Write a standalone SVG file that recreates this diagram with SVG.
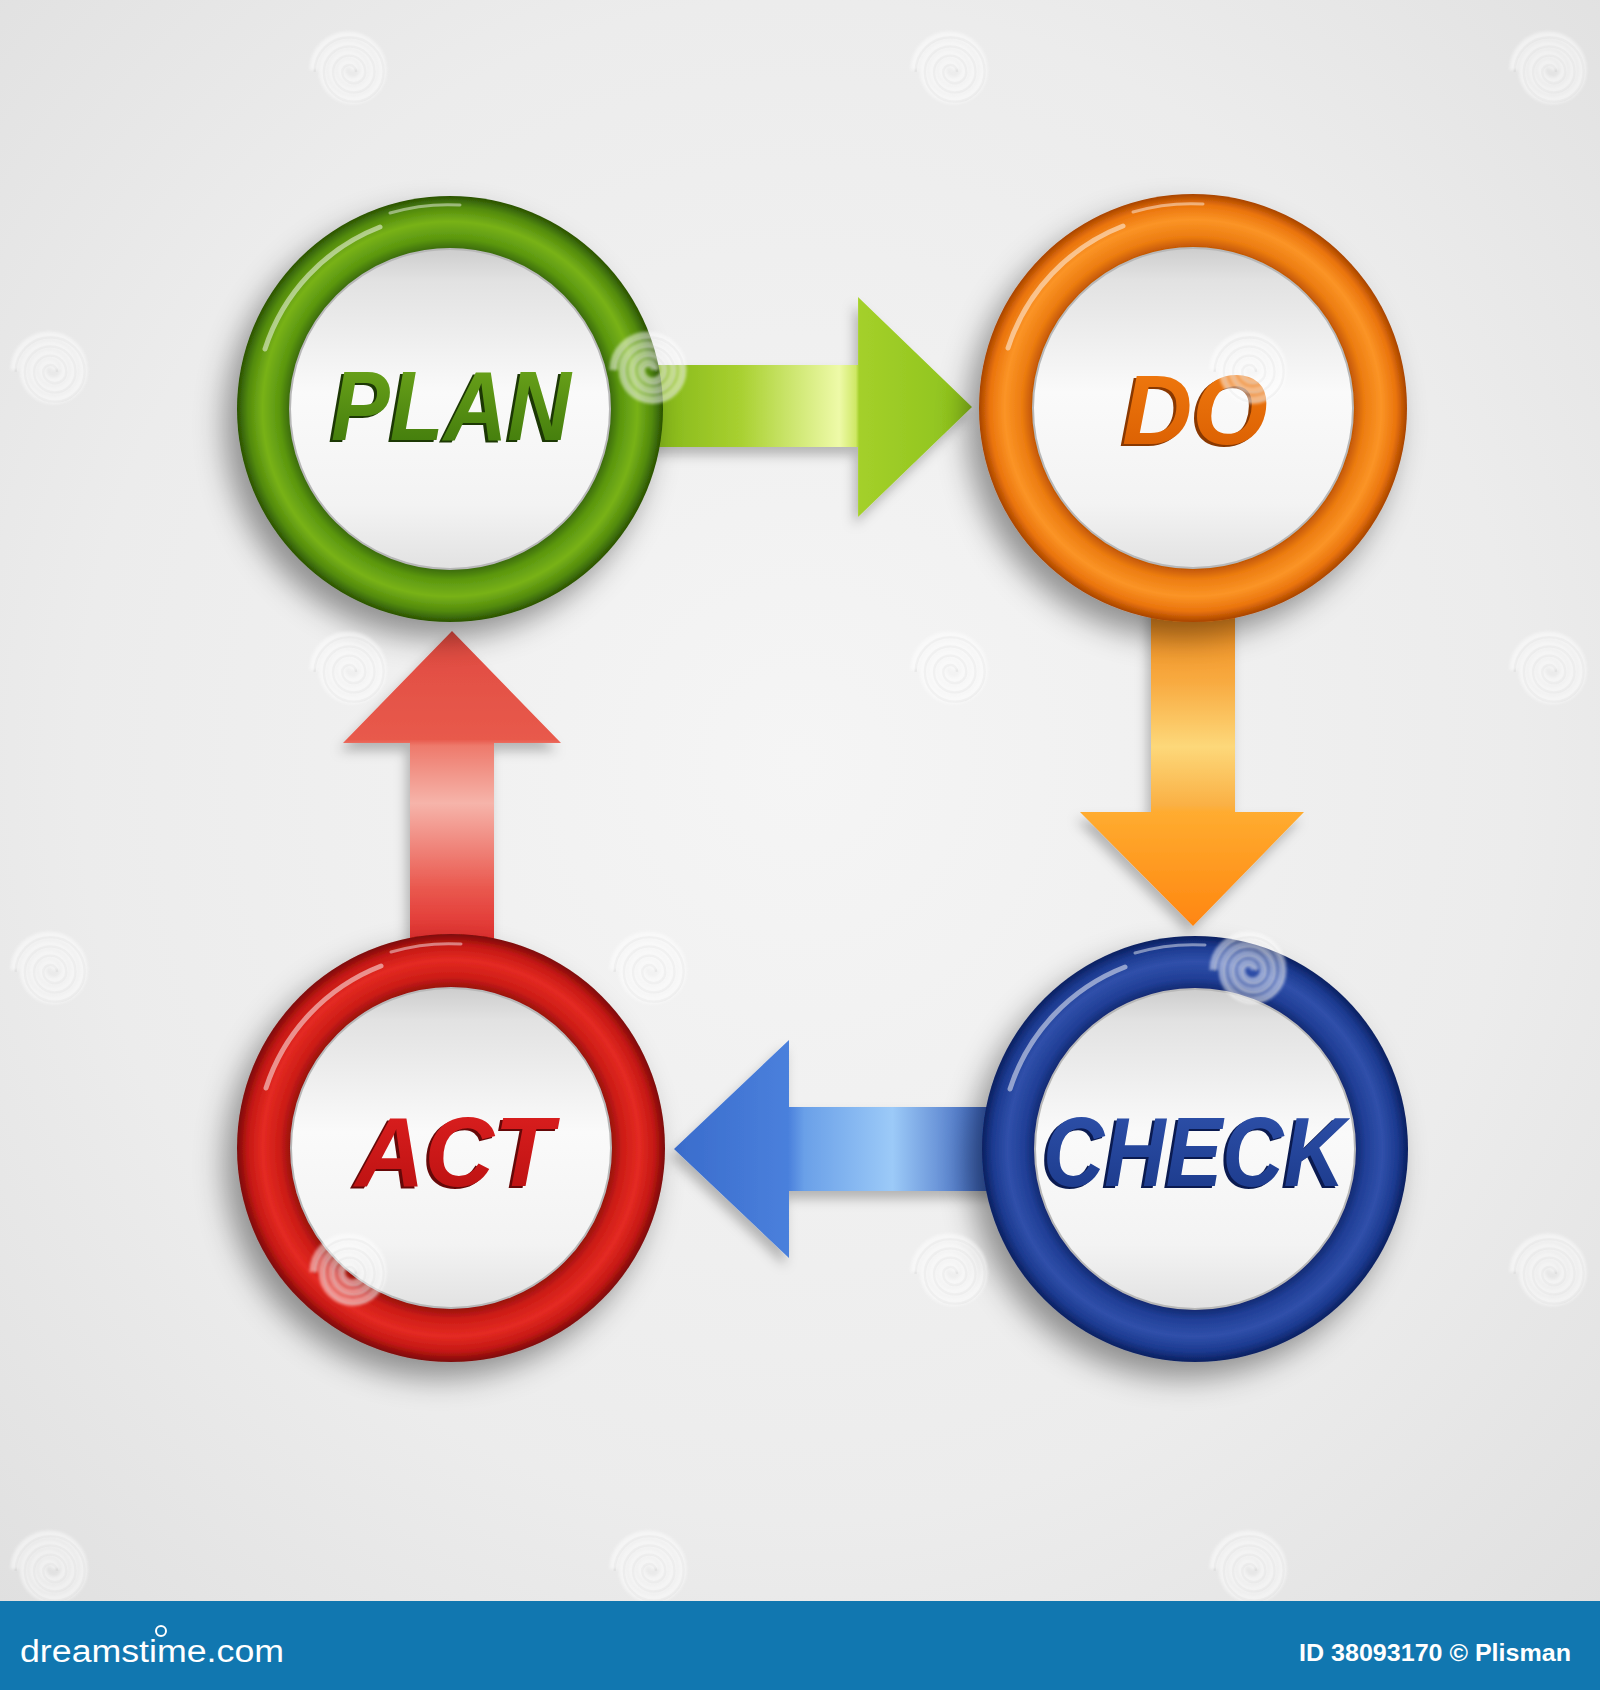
<svg xmlns="http://www.w3.org/2000/svg" xmlns:xlink="http://www.w3.org/1999/xlink" width="1600" height="1690" viewBox="0 0 1600 1690">
<defs>
  <radialGradient id="bg" cx="0.5" cy="0.45" r="0.75">
    <stop offset="0" stop-color="#f5f5f5"/>
    <stop offset="0.6" stop-color="#ececec"/>
    <stop offset="1" stop-color="#dedede"/>
  </radialGradient>
  <filter id="shadow" x="-30%" y="-30%" width="160%" height="160%">
    <feDropShadow dx="-12" dy="16" stdDeviation="15" flood-color="#000" flood-opacity="0.4"/>
  </filter>
  <filter id="ashadow" x="-30%" y="-30%" width="160%" height="160%">
    <feDropShadow dx="-4" dy="8" stdDeviation="6" flood-color="#000" flood-opacity="0.25"/>
  </filter>
  <filter id="soft" x="-20%" y="-20%" width="140%" height="140%">
    <feGaussianBlur stdDeviation="1.2"/>
  </filter>
  <radialGradient id="ringG">
    <stop offset="0.73" stop-color="#2c5604"/>
    <stop offset="0.8" stop-color="#5a960f"/>
    <stop offset="0.88" stop-color="#78b218"/>
    <stop offset="0.95" stop-color="#528a0c"/>
    <stop offset="1" stop-color="#2a5204"/>
  </radialGradient>
  <radialGradient id="ringO">
    <stop offset="0.73" stop-color="#b04600"/>
    <stop offset="0.8" stop-color="#ec7c10"/>
    <stop offset="0.88" stop-color="#fb9426"/>
    <stop offset="0.95" stop-color="#ea740c"/>
    <stop offset="1" stop-color="#a84400"/>
  </radialGradient>
  <radialGradient id="ringB">
    <stop offset="0.73" stop-color="#0a2060"/>
    <stop offset="0.8" stop-color="#203e96"/>
    <stop offset="0.88" stop-color="#3050aa"/>
    <stop offset="0.95" stop-color="#1c3a90"/>
    <stop offset="1" stop-color="#0a2060"/>
  </radialGradient>
  <radialGradient id="ringR">
    <stop offset="0.73" stop-color="#820c0a"/>
    <stop offset="0.8" stop-color="#cc1c16"/>
    <stop offset="0.88" stop-color="#e42a22"/>
    <stop offset="0.95" stop-color="#c41814"/>
    <stop offset="1" stop-color="#7c0a08"/>
  </radialGradient>
  <linearGradient id="face" x1="0" y1="0" x2="0" y2="1">
    <stop offset="0" stop-color="#cdcdcd"/>
    <stop offset="0.1" stop-color="#e2e2e2"/>
    <stop offset="0.45" stop-color="#fafafa"/>
    <stop offset="0.8" stop-color="#f3f3f3"/>
    <stop offset="1" stop-color="#e2e2e2"/>
  </linearGradient>
  <linearGradient id="gArrow" gradientUnits="userSpaceOnUse" x1="640" y1="0" x2="972" y2="0">
    <stop offset="0" stop-color="#7db214"/>
    <stop offset="0.3" stop-color="#a8d030"/>
    <stop offset="0.6" stop-color="#eefaa8"/>
    <stop offset="0.65" stop-color="#cfe866"/>
    <stop offset="0.66" stop-color="#a4d02a"/>
    <stop offset="1" stop-color="#8cc21c"/>
  </linearGradient>
  <linearGradient id="oArrow" gradientUnits="userSpaceOnUse" x1="0" y1="600" x2="0" y2="926">
    <stop offset="0" stop-color="#ee8616"/>
    <stop offset="0.25" stop-color="#f8aa40"/>
    <stop offset="0.45" stop-color="#fdd87a"/>
    <stop offset="0.63" stop-color="#fab044"/>
    <stop offset="0.65" stop-color="#ffac30"/>
    <stop offset="1" stop-color="#ff8610"/>
  </linearGradient>
  <linearGradient id="rArrow" gradientUnits="userSpaceOnUse" x1="0" y1="950" x2="0" y2="631">
    <stop offset="0" stop-color="#de2626"/>
    <stop offset="0.2" stop-color="#ea5a50"/>
    <stop offset="0.46" stop-color="#f6b4aa"/>
    <stop offset="0.64" stop-color="#ee7a6c"/>
    <stop offset="0.66" stop-color="#e85a4c"/>
    <stop offset="1" stop-color="#e04a40"/>
  </linearGradient>
  <linearGradient id="bArrow" gradientUnits="userSpaceOnUse" x1="1000" y1="0" x2="674" y2="0">
    <stop offset="0" stop-color="#2a50b0"/>
    <stop offset="0.33" stop-color="#9ccaf8"/>
    <stop offset="0.6" stop-color="#6aa0e8"/>
    <stop offset="0.65" stop-color="#4a80dc"/>
    <stop offset="1" stop-color="#3a6ccc"/>
  </linearGradient>
  <linearGradient id="tG" x1="0" y1="0" x2="0" y2="1">
    <stop offset="0" stop-color="#70a81c"/>
    <stop offset="1" stop-color="#3c760a"/>
  </linearGradient>
  <linearGradient id="tO" x1="0" y1="0" x2="0" y2="1">
    <stop offset="0" stop-color="#f27c10"/>
    <stop offset="1" stop-color="#d85c00"/>
  </linearGradient>
  <linearGradient id="tB" x1="0" y1="0" x2="0" y2="1">
    <stop offset="0" stop-color="#2f52ac"/>
    <stop offset="1" stop-color="#1a3888"/>
  </linearGradient>
  <linearGradient id="tR" x1="0" y1="0" x2="0" y2="1">
    <stop offset="0" stop-color="#de2020"/>
    <stop offset="1" stop-color="#b81010"/>
  </linearGradient>
  <path id="spiral" d="M -30,0 A 30 30 0 0 1 30,0 A 26 26 0 0 1 -22,0 A 22 22 0 0 1 22,0 A 18 18 0 0 1 -14,0 A 14 14 0 0 1 14,0 A 10 10 0 0 1 -6,0 A 6 6 0 0 1 6,0"/>
</defs>
<style>
  .label { font-family: "Liberation Sans", Arial, sans-serif; font-weight: bold; font-style: italic; font-size: 98px; text-anchor: middle; }
  .face { fill: url(#face); stroke: #b8b8b8; stroke-width: 2; }
  .hl { fill: none; stroke: #ffffff; stroke-linecap: round; }
  .arrow { filter: url(#ashadow); }
  .sp { fill: none; stroke: #ffffff; stroke-width: 7; opacity: 0.5; filter: url(#soft); }
  .sp2 { fill: none; stroke: #8a8a8a; stroke-width: 2; opacity: 0.15; }
  .foot { font-family: "Liberation Sans", Arial, sans-serif; fill: #ffffff; }
</style>

<rect x="0" y="0" width="1600" height="1690" fill="url(#bg)"/>

<g id="connectors">
  <polygon class="arrow" fill="url(#gArrow)" points="640,365 858,365 858,297 972,407 858,517 858,447 640,447"/>
  <polygon class="arrow" fill="url(#oArrow)" points="1151,600 1235,600 1235,812 1304,812 1193,926 1080,812 1151,812"/>
  <polygon class="arrow" fill="url(#rArrow)" points="410,960 410,743 343,743 452,631 561,743 494,743 494,960"/>
  <polygon class="arrow" fill="url(#bArrow)" points="1000,1107 789,1107 789,1040 674,1149 789,1258 789,1191 1000,1191"/>
</g>

<g id="node-plan" transform="translate(450,409)">
  <circle r="213" fill="url(#ringG)" filter="url(#shadow)"/>
  <path class="hl" d="M -185,-60 A 195 195 0 0 1 -70,-182" stroke-width="5" opacity="0.5"/>
  <path class="hl" d="M -60,-196 A 205 205 0 0 1 10,-204" stroke-width="3" opacity="0.45"/>
  <circle class="face" r="160"/>
  <text class="label" x="-2" y="33" fill="#1c3804" textLength="240" lengthAdjust="spacingAndGlyphs">PLAN</text>
  <text class="label" x="1" y="31" fill="url(#tG)" textLength="240" lengthAdjust="spacingAndGlyphs">PLAN</text>
</g>

<g id="node-do" transform="translate(1193,408)">
  <circle r="214" fill="url(#ringO)" filter="url(#shadow)"/>
  <path class="hl" d="M -185,-60 A 195 195 0 0 1 -70,-182" stroke-width="5" opacity="0.5"/>
  <path class="hl" d="M -60,-196 A 205 205 0 0 1 10,-204" stroke-width="3" opacity="0.45"/>
  <circle class="face" r="160"/>
  <text class="label" x="-1" y="38" fill="#8a3800" textLength="146" lengthAdjust="spacingAndGlyphs">DO</text>
  <text class="label" x="2" y="36" fill="url(#tO)" textLength="146" lengthAdjust="spacingAndGlyphs">DO</text>
</g>

<g id="node-check" transform="translate(1195,1149)">
  <circle r="213" fill="url(#ringB)" filter="url(#shadow)"/>
  <path class="hl" d="M -185,-60 A 195 195 0 0 1 -70,-182" stroke-width="5" opacity="0.5"/>
  <path class="hl" d="M -60,-196 A 205 205 0 0 1 10,-204" stroke-width="3" opacity="0.45"/>
  <circle class="face" r="160"/>
  <text class="label" x="-4" y="39" fill="#0a1a50" textLength="302" lengthAdjust="spacingAndGlyphs">CHECK</text>
  <text class="label" x="-1" y="37" fill="url(#tB)" textLength="302" lengthAdjust="spacingAndGlyphs">CHECK</text>
</g>

<g id="node-act" transform="translate(451,1148)">
  <circle r="214" fill="url(#ringR)" filter="url(#shadow)"/>
  <path class="hl" d="M -185,-60 A 195 195 0 0 1 -70,-182" stroke-width="5" opacity="0.5"/>
  <path class="hl" d="M -60,-196 A 205 205 0 0 1 10,-204" stroke-width="3" opacity="0.45"/>
  <circle class="face" r="160"/>
  <text class="label" x="0" y="40" fill="#660808" textLength="198" lengthAdjust="spacingAndGlyphs">ACT</text>
  <text class="label" x="3" y="38" fill="url(#tR)" textLength="198" lengthAdjust="spacingAndGlyphs">ACT</text>
</g>

<g id="watermark">
  <g transform="translate(348,70) scale(1.15)"><use href="#spiral" class="sp2" transform="translate(1,1.5)"/><use href="#spiral" class="sp"/></g>
  <g transform="translate(949,70) scale(1.15)"><use href="#spiral" class="sp2" transform="translate(1,1.5)"/><use href="#spiral" class="sp"/></g>
  <g transform="translate(1548,70) scale(1.15)"><use href="#spiral" class="sp2" transform="translate(1,1.5)"/><use href="#spiral" class="sp"/></g>
  <g transform="translate(49,370) scale(1.15)"><use href="#spiral" class="sp2" transform="translate(1,1.5)"/><use href="#spiral" class="sp"/></g>
  <g transform="translate(648,370) scale(1.15)"><use href="#spiral" class="sp2" transform="translate(1,1.5)"/><use href="#spiral" class="sp"/></g>
  <g transform="translate(1248,370) scale(1.15)"><use href="#spiral" class="sp2" transform="translate(1,1.5)"/><use href="#spiral" class="sp"/></g>
  <g transform="translate(348,670) scale(1.15)"><use href="#spiral" class="sp2" transform="translate(1,1.5)"/><use href="#spiral" class="sp"/></g>
  <g transform="translate(949,670) scale(1.15)"><use href="#spiral" class="sp2" transform="translate(1,1.5)"/><use href="#spiral" class="sp"/></g>
  <g transform="translate(1548,670) scale(1.15)"><use href="#spiral" class="sp2" transform="translate(1,1.5)"/><use href="#spiral" class="sp"/></g>
  <g transform="translate(49,970) scale(1.15)"><use href="#spiral" class="sp2" transform="translate(1,1.5)"/><use href="#spiral" class="sp"/></g>
  <g transform="translate(648,970) scale(1.15)"><use href="#spiral" class="sp2" transform="translate(1,1.5)"/><use href="#spiral" class="sp"/></g>
  <g transform="translate(1248,970) scale(1.15)"><use href="#spiral" class="sp2" transform="translate(1,1.5)"/><use href="#spiral" class="sp"/></g>
  <g transform="translate(348,1272) scale(1.15)"><use href="#spiral" class="sp2" transform="translate(1,1.5)"/><use href="#spiral" class="sp"/></g>
  <g transform="translate(949,1272) scale(1.15)"><use href="#spiral" class="sp2" transform="translate(1,1.5)"/><use href="#spiral" class="sp"/></g>
  <g transform="translate(1548,1272) scale(1.15)"><use href="#spiral" class="sp2" transform="translate(1,1.5)"/><use href="#spiral" class="sp"/></g>
  <g transform="translate(49,1569) scale(1.15)"><use href="#spiral" class="sp2" transform="translate(1,1.5)"/><use href="#spiral" class="sp"/></g>
  <g transform="translate(648,1569) scale(1.15)"><use href="#spiral" class="sp2" transform="translate(1,1.5)"/><use href="#spiral" class="sp"/></g>
  <g transform="translate(1248,1569) scale(1.15)"><use href="#spiral" class="sp2" transform="translate(1,1.5)"/><use href="#spiral" class="sp"/></g>
</g>

<g id="footer">
  <rect x="0" y="1601" width="1600" height="89" fill="#1177b0"/>
  <text class="foot" x="20" y="1662" font-size="31" textLength="264" lengthAdjust="spacingAndGlyphs">dreamstime.com</text>
  <circle cx="161" cy="1631" r="5" fill="none" stroke="#ffffff" stroke-width="2"/>
  <text class="foot" x="1299" y="1661" font-size="24" font-weight="bold" textLength="272" lengthAdjust="spacingAndGlyphs">ID 38093170 © Plisman</text>
</g>
</svg>
